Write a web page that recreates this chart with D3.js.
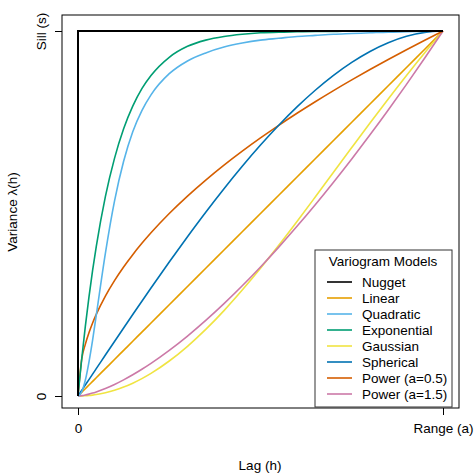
<!DOCTYPE html>
<html>
<head>
<meta charset="utf-8">
<script src="https://cdn.jsdelivr.net/npm/d3@7"></script>
<style>
  body { margin: 0; background: #fff; }
  text { font-family: "Liberation Sans", Arial, sans-serif; }
</style>
</head>
<body>
<script>
// lag values (fraction of range) shared by the smooth models
var lags = [0, .01, .02, .03, .04, .05, .075, .1, .125, .15, .175, .2, .25, .3, .35, .4, .45, .5, .55, .6, .65, .7, .75, .8, .85, .9, .95, 1];

var nuggetLag = [0, 0, 1];
var nuggetVal = [0, 1, 1];
var linearVal = lags.slice();
var quadraticVal = [0, .011, .043, .093, .153, .221, .391, .534, .643, .724, .782, .825, .883, .918, .940, .956, .967, .975, .980, .985, .988, .991, .993, .995, .997, .998, .999, 1];
var exponentialVal = [0, .100, .190, .271, .344, .409, .546, .651, .732, .794, .842, .878, .928, .958, .975, .985, .991, .995, .997, .998, .999, .999, 1, 1, 1, 1, 1, 1];
var gaussianVal = [0, .0002, .0006, .0014, .0025, .0039, .0089, .0157, .0245, .0352, .0477, .062, .0959, .1362, .1824, .234, .2902, .3499, .4129, .4782, .5452, .6129, .6806, .7478, .8138, .8782, .9404, 1];
var sphericalVal = [0, .015, .03, .045, .06, .0749, .1123, .1495, .1865, .2233, .2598, .296, .3672, .4365, .5036, .568, .6294, .6875, .7418, .792, .8377, .8785, .9141, .944, .9679, .9855, .9963, 1];
var power05Val = [0, .1, .1414, .1732, .2, .2236, .2739, .3162, .3536, .3873, .4183, .4472, .5, .5477, .5916, .6325, .6708, .7071, .7416, .7746, .8062, .8367, .866, .8944, .922, .9487, .9747, 1];
var power15Val = [0, .001, .0028, .0052, .008, .0112, .0205, .0316, .0442, .0581, .0732, .0894, .125, .1643, .2071, .253, .3019, .3536, .4079, .4648, .524, .5857, .6495, .7155, .7837, .8538, .9259, 1];

var modelNames = ["Nugget", "Linear", "Quadratic", "Exponential", "Gaussian", "Spherical", "Power (a=0.5)", "Power (a=1.5)"];
var modelColors = ["#000000", "#E69F00", "#56B4E9", "#009E73", "#F0E442", "#0072B2", "#D55E00", "#CC79A7"];
var modelVals = [nuggetVal, linearVal, quadraticVal, exponentialVal, gaussianVal, sphericalVal, power05Val, power15Val];

var width = 474, height = 474;
var svg = d3.select("body").append("svg")
    .attr("width", width)
    .attr("height", height);

var x = d3.scaleLinear().domain([0, 1]).range([78, 443]);
var y = d3.scaleLinear().domain([0, 1]).range([396, 31]);

// plot box
svg.append("rect")
    .attr("x", 62).attr("y", 15)
    .attr("width", 397).attr("height", 393)
    .attr("fill", "none").attr("stroke", "#000").attr("stroke-width", 1);

// axes
var xAxis = svg.append("g").attr("transform", "translate(0,408)")
    .call(d3.axisBottom(x).tickValues([0, 1]).tickSize(7).tickPadding(8)
        .tickFormat(function(d) { return d === 0 ? "0" : "Range (a)"; }));
var yAxis = svg.append("g").attr("transform", "translate(62,0)")
    .call(d3.axisLeft(y).tickValues([0, 1]).tickSize(7).tickPadding(8)
        .tickFormat(function(d) { return d === 0 ? "0" : "Sill (s)"; }));
[xAxis, yAxis].forEach(function(a) {
    a.select(".domain").remove();
    a.selectAll("text").attr("font-size", 13.5).attr("fill", "#000")
        .style("font-family", "Liberation Sans, Arial, sans-serif");
});
yAxis.selectAll(".tick text")
    .attr("transform", "rotate(-90)")
    .attr("x", 0).attr("y", -16)
    .attr("text-anchor", "middle")
    .attr("dy", "0");

svg.append("text").attr("x", 260).attr("y", 470)
    .attr("text-anchor", "middle").attr("font-size", 13.5).text("Lag (h)");
svg.append("text").attr("transform", "translate(17,212) rotate(-90)")
    .attr("text-anchor", "middle").attr("font-size", 13.5).text("Variance λ(h)");

// curves
var line = d3.line()
    .x(function(d) { return x(d[0]); })
    .y(function(d) { return y(d[1]); })
    .curve(d3.curveMonotoneX);
var straight = d3.line()
    .x(function(d) { return x(d[0]); })
    .y(function(d) { return y(d[1]); });

var order = [1, 4, 7, 6, 5, 2, 3, 0];
order.forEach(function(i) {
    var pts;
    if (i === 0) {
        pts = nuggetLag.map(function(l, j) { return [l, nuggetVal[j]]; });
    } else {
        pts = lags.map(function(l, j) { return [l, modelVals[i][j]]; });
    }
    svg.append("path")
        .attr("d", i === 0 ? straight(pts) : line(pts))
        .attr("fill", "none")
        .attr("stroke", modelColors[i])
        .attr("stroke-width", i === 0 ? 2 : 1.6);
});

// legend
var lg = svg.append("g");
lg.append("rect")
    .attr("x", 315).attr("y", 250).attr("width", 137).attr("height", 157)
    .attr("fill", "#fff").attr("stroke", "#333").attr("stroke-width", 1);
lg.append("text").attr("x", 383).attr("y", 266)
    .attr("text-anchor", "middle").attr("font-size", 13.5).text("Variogram Models");
modelNames.forEach(function(n, i) {
    var yy = 282 + i * 16;
    lg.append("line")
        .attr("x1", 327).attr("x2", 352).attr("y1", yy).attr("y2", yy)
        .attr("stroke", modelColors[i]).attr("stroke-width", 1.6);
    lg.append("text").attr("x", 362).attr("y", yy + 4.5)
        .attr("font-size", 13.5).text(n);
});
</script>
</body>
</html>
